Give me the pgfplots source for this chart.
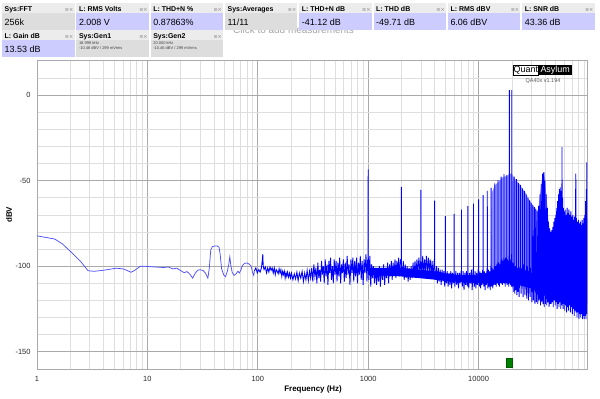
\documentclass[border=0pt]{standalone}
\usepackage{fontspec}
\setmainfont{Liberation Sans}
\newfontfamily\dejavu{DejaVu Sans}
\usepackage{pgfplots}
\pgfplotsset{compat=1.18}
\definecolor{lav}{RGB}{204,204,255}
\definecolor{tgray}{RGB}{221,221,221}
\definecolor{hgray}{RGB}{236,236,236}
\definecolor{imdfill}{RGB}{135,135,255}
\definecolor{specblue}{RGB}{0,0,255}
\definecolor{lowblue}{RGB}{80,80,255}
\definecolor{mkgreen}{RGB}{0,128,0}
\definecolor{majgrid}{RGB}{170,170,170}
\definecolor{mingrid}{RGB}{222,222,222}

\newcommand{\tile}[5]{%
  \fill[hgray] (#1,398-#2) rectangle ++(72.5,-10);
  \fill[#5] (#1,388-#2) rectangle ++(72.5,-16.5);
  \node[anchor=base west,inner sep=0,font=\fontsize{7}{8}\selectfont\bfseries] at (#1+2.5,398-#2-8) {#3};
  \node[anchor=base west,inner sep=0,font=\fontsize{9}{10}\selectfont] at (#1+2.5,398-#2-22) {#4};
  \node[anchor=base east,inner sep=0,font=\dejavu\fontsize{5}{5}\selectfont,text=gray] at (#1+71.5,398-#2-8) {≡×};
}

\begin{document}
\begin{tikzpicture}[x=1bp,y=1bp]
\useasboundingbox (0,0) rectangle (600,398);
\fill[white] (0,0) rectangle (600,398);

% text partly hidden behind the first row of tiles
\node[anchor=base west,inner sep=0,font=\fontsize{10}{11}\selectfont,text={rgb,255:red,165;green,165;blue,165}] at (233,398-33.5) {Click to add measurements};

% row 1
\tile{2}{3}{Sys:FFT}{256k}{tgray}
\tile{76.3}{3}{L: RMS Volts}{2.008 V}{lav}
\tile{150.6}{3}{L: THD+N \%}{0.87863\%}{lav}
\tile{224.9}{3}{Sys:Averages}{11/11}{tgray}
\tile{299.2}{3}{L: THD+N dB}{-41.12 dB}{lav}
\tile{373.5}{3}{L: THD dB}{-49.71 dB}{lav}
\tile{447.8}{3}{L: RMS dBV}{6.06 dBV}{lav}
\tile{522.1}{3}{L: SNR dB}{43.36 dB}{lav}
% row 2
\tile{2}{30}{L: Gain dB}{13.53 dB}{lav}
\tile{76.3}{30}{Sys:Gen1}{}{tgray}
\tile{150.6}{30}{Sys:Gen2}{}{tgray}
\node[anchor=base west,inner sep=0,font=\fontsize{4}{4}\selectfont,text=darkgray] at (78.8,398-44) {18.999 kHz};
\node[anchor=base west,inner sep=0,font=\fontsize{4}{4}\selectfont,text=darkgray] at (78.8,398-49) {-10.46 dBV / 299 mVrms};
\node[anchor=base west,inner sep=0,font=\fontsize{4}{4}\selectfont,text=darkgray] at (153.1,398-44) {20.000 kHz};
\node[anchor=base west,inner sep=0,font=\fontsize{4}{4}\selectfont,text=darkgray] at (153.1,398-49) {-10.46 dBV / 299 mVrms};

\begin{axis}[
  at={(37bp,29.2bp)}, anchor=south west,
  scale only axis, width=550bp, height=308bp,
  xmode=log, xmin=1, xmax=96000, ymin=-160, ymax=20,
  xtick={1,10,100,1000,10000}, xticklabels={1,10,100,1000,10000},
  minor xtick={2,3,4,5,6,7,8,9,20,30,40,50,60,70,80,90,200,300,400,500,600,700,800,900,2000,3000,4000,5000,6000,7000,8000,9000,20000,30000,40000,50000,60000,70000,80000,90000},
  ytick={0,-50,-100,-150}, yticklabels={0,-50,-100,-150},
  minor ytick={10,-10,-20,-30,-40,-60,-70,-80,-90,-110,-120,-130,-140},
  grid=both,
  major grid style={draw=majgrid, line width=0.6bp},
  minor grid style={draw=mingrid, line width=0.6bp},
  axis line style={draw=majgrid, line width=0.6bp},
  tick style={draw=none},
  ticklabel style={font=\fontsize{7.5}{8}\selectfont, text={rgb,255:red,40;green,40;blue,40}},
  xticklabel style={yshift=-4bp},
  yticklabel style={xshift=-3bp},
  xlabel={Frequency (Hz)}, ylabel={dBV},
  label style={font=\fontsize{8}{9}\selectfont\bfseries},
  xlabel style={at={(axis description cs:0.502,-0.066)}, anchor=center},
  ylabel style={at={(axis description cs:-0.051,0.5)}, anchor=center},
]
% light IMD fill
\addplot[draw=none, fill=imdfill] coordinates {
(13000,-104) (13200,-57) (14000,-53) (15000,-51) (16000,-49) (17000,-47.5) (18000,-47.5) (18999,-46) (20000,-46) (21000,-48.5) (22000,-50) (23000,-51.5) (24000,-53) (25000,-55) (26500,-57) (28000,-60) (30000,-63) (32000,-65.5) (34000,-68) (35000,-65) (36000,-58) (37000,-52) (38000,-46.5) (39000,-45.5) (40000,-50.5) (41000,-58) (42000,-66) (43000,-74) (44000,-78) (45000,-80) (45000,-104)
} -- cycle;
% dark core of the noise band
\addplot[draw=none, fill=specblue] coordinates {
(1000,-101) (2000,-101) (4000,-103) (6000,-105) (10000,-105.5) (15000,-103.5) (18000,-100.5) (20000,-100.5) (30000,-104) (40000,-102) (45000,-90) (46000,-82) (50000,-74) (54000,-64) (56000,-62) (58000,-68) (62000,-72) (70000,-74) (80000,-77) (90000,-76) (96000,-72)
(96000,-122) (80000,-121) (60000,-119) (45000,-117) (30000,-113) (20000,-110) (10000,-110) (5000,-108.5) (2000,-106) (1000,-105)
} -- cycle;
% low frequency part of the spectrum
\addplot[lowblue, line width=0.75bp] coordinates {
(1,-82.3) (1.2,-83.2) (1.45,-84.2) (1.7,-87) (2.1,-92.6) (2.5,-97.5) (2.9,-102.7) (3.3,-103) (3.8,-102.6) (4.5,-101.9) (5.2,-101.2) (6,-101.6) (6.6,-102.6) (7.1,-103.6) (7.7,-102.4) (8.6,-100.1) (9.6,-100.1) (11,-100.4) (12.5,-100.6) (14,-100.8) (15.5,-100.5) (17,-101.6) (18.5,-101.2) (20,-102.6) (21.5,-103.8) (22.8,-103.2) (24.2,-104.6) (25.7,-107) (27.2,-104) (28.7,-102.3) (30.2,-102.1) (32,-102.6) (33.6,-104.1) (35.3,-107) (36.4,-101) (37.5,-90.5) (38.8,-88.6) (41,-88.2) (43,-88.2) (44.6,-89) (45.6,-93) (47,-101.5) (49,-105) (51,-106.2) (53,-103) (54.6,-99) (55.8,-94.5) (57,-99.5) (58.6,-103.6) (61,-105.4) (63.5,-104.6) (66,-103) (68,-104) (70,-102.6) (72.5,-99.6) (76,-98.3) (80,-98.2) (84,-98.9) (87,-100) (89.5,-103.5) (92,-105.5) (93,-103)
};
% noise, harmonics and tones
\addplot[specblue, line width=0.85bp] coordinates {
(93,-103) (96,-101) (99,-104) (102,-102) (105,-103.5) (108,-101) (110,-96) (111,-93) (112,-100) (114,-102) (117,-100.5) (120,-104) (123,-101) (126,-103.5) (129,-100.5) (132,-102.5) (135,-101) (138,-104) (141,-101) (144,-105) (147,-102) (150,-103) (153,-104.5) (156,-101.5) (159,-104) (162,-102) (165,-106) (168,-103) (171,-105) (174,-103) (177,-107) (180,-104) (183,-106) (186,-103.5) (190,-106.5) (194,-104) (198,-107)
(202,-104) (208,-108) (214,-104.5) (220,-107.5) (226,-103.5) (232,-108.5) (238,-104) (245,-107) (252,-103) (259,-109) (266,-104) (273,-108) (280,-102.5) (287,-108.5) (294,-103) (301,-107) (308,-101) (315,-109) (322,-99) (329,-106) (336,-101) (343,-110) (350,-98) (357,-107) (364,-102) (371,-109) (378,-97) (385,-105) (392,-100) (400,-110) (408,-96) (416,-106) (424,-99) (432,-111) (440,-97) (448,-104) (456,-95) (465,-108) (474,-100) (483,-110) (492,-96)
(502,-105) (512,-97) (522,-109) (532,-98) (542,-106) (552,-95) (563,-110) (574,-99) (585,-104) (596,-96) (608,-109) (620,-98) (632,-107) (645,-94) (658,-105) (671,-99) (684,-111) (698,-96) (712,-104) (726,-95) (740,-109) (755,-97) (770,-106) (785,-95) (800,-110) (816,-98) (832,-105) (848,-94) (865,-108) (882,-97) (900,-111) (918,-96) (936,-104) (955,-93) (975,-109) (990,-96) (997,-98) (1000,-43.5) (1003,-97)
(1015,-108) (1035,-94) (1055,-112) (1075,-99) (1095,-107) (1115,-100) (1140,-110) (1165,-101) (1190,-111) (1215,-102) (1240,-109) (1265,-100) (1290,-112) (1320,-101) (1350,-108) (1380,-99) (1410,-111) (1440,-101) (1470,-107) (1500,-98) (1530,-110) (1560,-99) (1590,-106) (1620,-97) (1650,-108) (1680,-98) (1715,-105) (1750,-96) (1785,-107) (1820,-97) (1855,-104) (1890,-95) (1930,-106) (1965,-96) (1995,-99) (2000,-53.7) (2005,-100)
(2040,-106) (2080,-97) (2120,-108) (2165,-99) (2210,-107) (2255,-100) (2300,-109) (2350,-101) (2400,-108) (2450,-100) (2500,-107) (2550,-98) (2600,-106) (2655,-97) (2710,-105) (2765,-96) (2820,-104) (2880,-95) (2950,-105) (2990,-97) (3000,-55.5) (3010,-97) (3060,-104) (3120,-94) (3180,-106) (3240,-96) (3300,-103) (3370,-94) (3440,-105) (3510,-95) (3580,-103) (3650,-96) (3720,-107) (3790,-97) (3870,-106) (3950,-98) (3995,-100) (4000,-61.7) (4005,-101) (4080,-108) (4160,-100) (4240,-110) (4320,-101) (4400,-109) (4490,-102) (4580,-111) (4670,-102) (4760,-109) (4850,-103) (4940,-112) (4995,-104) (5000,-70.7) (5005,-104)
(5100,-110) (5200,-103) (5300,-112) (5400,-104) (5500,-111) (5600,-103) (5700,-113) (5800,-104) (5900,-110) (5995,-103) (6000,-69.5) (6005,-104) (6100,-112) (6220,-103) (6340,-111) (6460,-104) (6580,-113) (6700,-104) (6820,-110) (6940,-103) (6995,-105) (7000,-67) (7005,-105) (7120,-112) (7250,-103) (7380,-114) (7510,-104) (7640,-111) (7770,-103) (7900,-112) (7995,-104) (8000,-65) (8005,-104) (8150,-113) (8300,-104) (8450,-110) (8600,-102) (8750,-114) (8900,-103) (8995,-104) (9000,-63.5) (9005,-105) (9150,-112) (9300,-103) (9450,-113) (9600,-104) (9750,-111) (9900,-103) (9995,-104) (10000,-61) (10005,-105)
(10150,-112) (10300,-103) (10450,-113) (10600,-104) (10750,-111) (10900,-102) (10995,-104) (11000,-58.5) (11005,-104) (11150,-112) (11300,-103) (11450,-114) (11600,-104) (11750,-111) (11900,-103) (11995,-104) (12000,-56) (12005,-104) (12150,-113) (12300,-102) (12450,-112) (12600,-103) (12750,-114) (12900,-102) (12995,-103) (13000,-54.2) (13005,-103) (13150,-112) (13300,-101) (13450,-113) (13600,-102) (13750,-111) (13900,-100) (13995,-102) (14000,-51.7) (14005,-102) (14150,-111) (14300,-100) (14450,-112) (14600,-99) (14750,-110) (14900,-100) (14995,-101) (15000,-49.7) (15005,-101) (15150,-111) (15300,-98) (15450,-112) (15600,-99) (15750,-109) (15900,-97) (15995,-99) (16000,-47.7) (16005,-99) (16150,-110) (16300,-96) (16450,-111) (16600,-97) (16750,-108) (16900,-95) (16995,-97) (17000,-46.2) (17005,-97) (17150,-110) (17300,-96) (17450,-112) (17600,-95) (17750,-109) (17900,-97) (17995,-97) (18000,-46.8) (18005,-97) (18150,-111) (18300,-96) (18450,-110) (18600,-97) (18750,-112) (18900,-96) (18990,-90) (18999,2.8) (19010,-90) (19150,-110) (19300,-97) (19450,-111) (19600,-96) (19750,-112) (19900,-96) (19990,-90) (20000,2.8) (20010,-90)
(20200,-112) (20400,-98) (20600,-115) (20800,-99) (20995,-98) (21000,-47.7) (21005,-98) (21250,-116) (21500,-100) (21750,-114) (21995,-99) (22000,-49.2) (22005,-99) (22250,-117) (22500,-101) (22750,-115) (22995,-100) (23000,-51.3) (23005,-100) (23300,-118) (23600,-101) (23995,-100) (24000,-52.5) (24005,-100) (24300,-116) (24600,-102) (24995,-101) (25000,-54.5) (25005,-101) (25300,-118) (25600,-100) (25995,-101) (26000,-56) (26005,-101) (26300,-117) (26600,-103) (26995,-102) (27000,-58) (27005,-102) (27300,-119) (27600,-101) (27995,-102) (28000,-60) (28005,-102) (28300,-120) (28600,-103) (28995,-103) (29000,-61.5) (29005,-103) (29300,-118) (29600,-102) (29995,-103) (30000,-63) (30005,-103) (30400,-121) (30800,-102) (31000,-64.5) (31005,-103) (31400,-120) (31700,-101) (32000,-65.5) (32005,-102) (32400,-122) (32700,-100) (33000,-66.5) (33005,-101) (33400,-121) (33700,-99) (34000,-68) (34005,-100) (34400,-122) (34700,-98) (35000,-65) (35005,-100) (35400,-120) (35700,-97) (36000,-58) (36005,-100) (36400,-123) (36700,-96) (37000,-52) (37005,-100) (37300,-121) (37600,-98) (38000,-46) (38005,-100) (38300,-122) (38600,-97) (39000,-45) (39005,-98) (39300,-124) (39600,-96) (40000,-50) (40005,-99) (40400,-122) (40800,-97) (41000,-58) (41005,-100) (41500,-123) (42000,-66) (42005,-100) (42500,-121) (43000,-74) (43005,-101) (43500,-124) (44000,-78) (44005,-100) (44500,-122) (45000,-80)
(45500,-122) (46000,-79) (46500,-121) (47000,-77) (47500,-124) (48000,-74) (48500,-120) (49000,-72) (49500,-123) (50000,-70) (50500,-121) (51000,-66) (51500,-125) (52000,-62) (52500,-122) (53000,-58) (53500,-124) (54000,-55) (54500,-121) (55000,-54) (55500,-125) (56000,-56) (56500,-123) (57000,-30.4) (57300,-122) (57800,-60) (58300,-125) (58800,-66) (59300,-122) (59800,-68) (60400,-126) (61000,-67) (61600,-123) (62200,-70) (62800,-127) (63400,-66) (64000,-124) (64600,-69) (65200,-126) (65800,-67) (66500,-123) (67200,-70) (67900,-127) (68600,-68) (69300,-124) (70000,-71) (70700,-128) (71400,-70) (72100,-125) (72800,-73) (73500,-129) (74200,-71) (74900,-126) (75600,-62) (76000,-46) (76400,-127) (77100,-72) (77900,-130) (78700,-74) (79500,-127) (80300,-73) (81100,-131) (81900,-75) (82700,-128) (83500,-74) (84300,-130) (85100,-76) (85900,-128) (86700,-73) (87500,-131) (88300,-75) (89100,-129) (89900,-72) (90700,-131) (91500,-70) (92300,-129) (93100,-62) (93900,-131) (94700,-55) (95300,-128) (95800,-39.4)
};
% marker
\addplot[only marks, mark=square*, mark size=3bp, mark options={xscale=0.9, yscale=1.5, fill=mkgreen, draw=mkgreen!70!black, line width=0.4bp}] coordinates {(19000,-156.3)};
\end{axis}

% logo
\node[anchor=north west, inner sep=0, minimum width=25bp, minimum height=10.5bp, draw=black, line width=0.6bp, fill=white, font=\fontsize{9}{9}\selectfont] at (513,398-64.5) {Quant};
\node[anchor=north west, inner sep=0, minimum width=34bp, minimum height=10.5bp, fill=black, text=white, font=\fontsize{9}{9}\selectfont] at (538,398-64.5) {Asylum};
\node[anchor=center, inner sep=0, font=\fontsize{5.5}{6}\selectfont, text={rgb,255:red,90;green,90;blue,90}] at (543,398-81.5) {QA40x v1.194};
\end{tikzpicture}
\end{document}
